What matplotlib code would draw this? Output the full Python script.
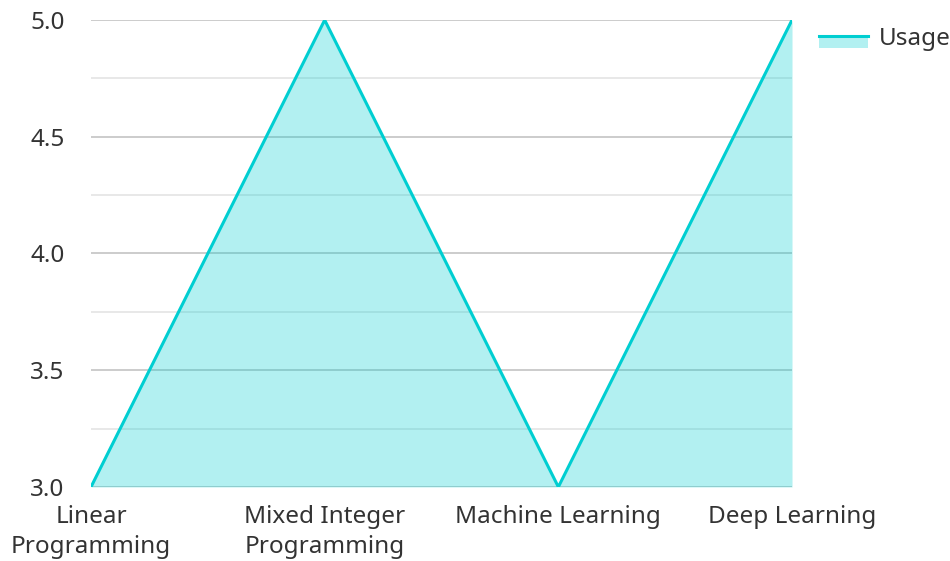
import matplotlib
matplotlib.use("Agg")
import matplotlib.pyplot as plt
from matplotlib.lines import Line2D
from matplotlib.patches import Rectangle
from matplotlib.legend_handler import HandlerBase
from matplotlib.ticker import MultipleLocator

# data
categories = ["Linear\nProgramming", "Mixed Integer\nProgramming", "Machine Learning", "Deep Learning"]
usage = [3.0, 5.0, 3.0, 5.0]

LINE = "#00CED1"

plt.rcParams["font.family"] = ["Noto Sans", "DejaVu Sans"]


class AreaHandler(HandlerBase):
    # line on top, filled strip hanging below it
    def create_artists(self, legend, orig, xd, yd, w, h, fontsize, trans):
        ymid = yd + h * 0.55
        ybot = yd - h * 0.15
        rect = Rectangle((xd, ybot), w, ymid - ybot,
                         facecolor=LINE, alpha=0.3, edgecolor="none", transform=trans)
        ln = Line2D([xd, xd + w], [ymid, ymid], color=LINE, lw=2.2, transform=trans)
        return [rect, ln]


fig = plt.figure(figsize=(9.5, 5.61), dpi=100)
ax = fig.add_axes([0.0958, 0.132, 0.7379, 0.8323])

x = list(range(len(categories)))
ax.fill_between(x, 3.0, usage, color=LINE, alpha=0.3, lw=0, zorder=2)
ax.plot(x, usage, color=LINE, lw=2.2, zorder=3)

ax.set_xlim(0, len(categories) - 1)
ax.set_ylim(3.0, 5.0)
ax.yaxis.set_major_locator(MultipleLocator(0.5))
ax.yaxis.set_minor_locator(MultipleLocator(0.25))
ax.set_yticks([3.0, 3.5, 4.0, 4.5, 5.0])
ax.set_yticklabels(["3.0", "3.5", "4.0", "4.5", "5.0"])
ax.set_xticks(x)
ax.set_xticklabels(categories, linespacing=1.32)

ax.grid(axis="y", which="major", color="#cccccc", lw=1.4, zorder=1)
ax.grid(axis="y", which="minor", color="#e8e8e8", lw=1.4, zorder=1)
ax.set_axisbelow(True)

for s in ax.spines.values():
    s.set_visible(False)
ax.tick_params(axis="both", which="both", length=0, labelsize=17.5, colors="#333333")
ax.tick_params(axis="y", pad=19)
ax.tick_params(axis="x", pad=13)

fig.legend([object()], ["Usage"], handler_map={object: AreaHandler()},
           loc="upper left", bbox_to_anchor=(0.852, 0.969),
           frameon=False, fontsize=17.5, handlelength=2.0, handletextpad=0.45,
           labelcolor="#333333", borderaxespad=0)

fig.savefig("out.png", dpi=100)
